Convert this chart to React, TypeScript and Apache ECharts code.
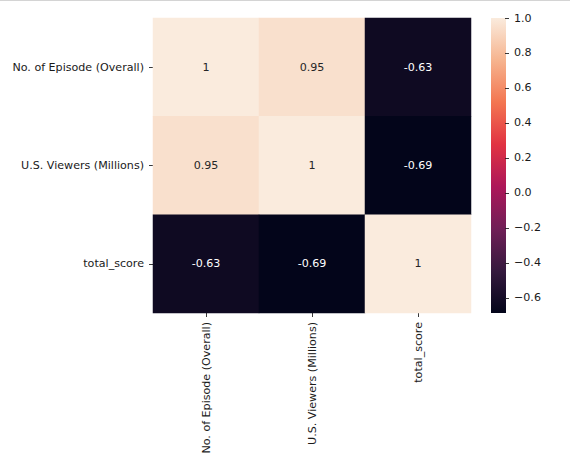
import React, { useEffect, useRef } from "react";
import * as echarts from "echarts";

const categories = ["No. of Episode (Overall)", "U.S. Viewers (Millions)", "total_score"];
const rowEpisode = [1, 0.95, -0.63];
const rowViewers = [0.95, 1, -0.686];
const rowScore = [-0.63, -0.686, 1];
const colorbarTicks = [-0.6, -0.4, -0.2, 0.0, 0.2, 0.4, 0.6, 0.8, 1.0];
const rocket = ["#03051a", "#35193e", "#701f57", "#ad1759", "#e13342", "#f37651", "#f6b48f", "#faebdd"];

const FONT = "DejaVu Sans";
const FS = 11.1;

export default function App() {
  const ref = useRef<HTMLDivElement>(null);
  useEffect(() => {
    if (!ref.current) return;
    const chart = echarts.init(ref.current, null, { renderer: "svg" });
    const rows = [rowEpisode, rowViewers, rowScore];
    const data: any[] = [];
    rows.forEach((row, yi) =>
      row.forEach((v, xi) =>
        data.push({ value: [xi, yi, v], label: { color: v > 0.2 ? "#262626" : "#ffffff" } })
      )
    );
    const all = rows.flat();
    const vmin = Math.min(...all);
    const vmax = Math.max(...all);
    const tickStyle = { color: "#222", width: 0.9 };
    const cbLeft = 491, cbTop = 18, cbW = 15, cbH = 295;
    const stops = rocket.map((c, i) => ({ offset: 1 - i / (rocket.length - 1), color: c }));
    stops.reverse();
    chart.setOption({
      animation: false,
      textStyle: { fontFamily: FONT },
      graphic: [
        { type: "rect", shape: { x: 0, y: 0, width: 570, height: 1 }, style: { fill: "#d4d4d4" } },
        {
          type: "rect",
          shape: { x: cbLeft, y: cbTop, width: cbW, height: cbH },
          style: { fill: new echarts.graphic.LinearGradient(0, 0, 0, 1, stops) },
        },
      ],
      grid: [
        { left: 153, top: 18, width: 318, height: 295, containLabel: false },
        { left: cbLeft + cbW - 1, top: cbTop, width: 1, height: cbH, containLabel: false },
      ],
      xAxis: [
        {
          type: "category",
          data: categories,
          gridIndex: 0,
          position: "bottom",
          axisLine: { show: false },
          axisTick: { show: true, alignWithLabel: true, length: 4, lineStyle: tickStyle },
          axisLabel: { rotate: 90, color: "#1a1a1a", fontSize: FS, margin: 9, fontFamily: FONT, interval: 0 },
          splitLine: { show: false },
        },
        {
          type: "value", gridIndex: 1, min: 0, max: 1,
          axisLine: { show: false }, axisTick: { show: false }, axisLabel: { show: false }, splitLine: { show: false },
        },
      ],
      yAxis: [
        {
          type: "category",
          data: categories,
          gridIndex: 0,
          inverse: true,
          axisLine: { show: false },
          axisTick: { show: true, alignWithLabel: true, length: 4, lineStyle: tickStyle },
          axisLabel: { color: "#1a1a1a", fontSize: FS, margin: 9, fontFamily: FONT, interval: 0 },
          splitLine: { show: false },
        },
        {
          type: "value",
          gridIndex: 1,
          position: "right",
          min: vmin,
          max: vmax,
          axisLine: { show: false },
          axisTick: { show: true, inside: false, length: 4, customValues: colorbarTicks, lineStyle: tickStyle },
          axisLabel: {
            show: true,
            customValues: colorbarTicks,
            color: "#1a1a1a",
            fontSize: FS,
            margin: 8,
            fontFamily: FONT,
            formatter: (v: number) => v.toFixed(1).replace("-", "\u2212"),
          },
          splitLine: { show: false },
        },
      ],
      visualMap: {
        type: "continuous",
        show: false,
        min: vmin,
        max: vmax,
        seriesIndex: 0,
        inRange: { color: rocket },
      },
      series: [
        {
          type: "heatmap",
          xAxisIndex: 0,
          yAxisIndex: 0,
          data,
          label: {
            show: true,
            fontSize: FS,
            fontFamily: FONT,
            formatter: (p: any) => String(Number(p.value[2].toPrecision(2))),
          },
          itemStyle: { borderWidth: 0 },
          emphasis: { disabled: true },
        },
      ],
    });
    return () => chart.dispose();
  }, []);
  return <div ref={ref} style={{ position: "fixed", left: 0, top: 0, width: 570, height: 467, background: "#fff" }} />;
}
